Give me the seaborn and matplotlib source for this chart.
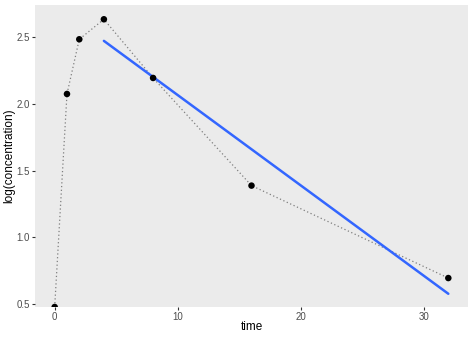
import matplotlib
matplotlib.use("Agg")
import matplotlib.pyplot as plt
import seaborn as sns
import pandas as pd
import numpy as np

time = [0, 1, 2, 4, 8, 16, 32]
log_conc = [0.478, 2.075, 2.485, 2.635, 2.195, 1.388, 0.695]
x_ticks = [0, 10, 20, 30]
y_ticks = [0.5, 1.0, 1.5, 2.0, 2.5]
y_tick_labels = ["0.5", "1.0", "1.5", "2.0", "2.5"]

df = pd.DataFrame({"time": time, "log_conc": log_conc})
fit_df = df[df["time"] >= 4]

sns.set_theme(style="white")
plt.rcParams['font.family'] = ['Liberation Sans', 'DejaVu Sans']

fig = plt.figure(figsize=(4.74, 3.38), dpi=100)
ax = fig.add_axes([35/474, 1 - 307/338, (468-35)/474, (307-5)/338])
ax.set_facecolor("#EBEBEB")

sns.lineplot(data=df, x="time", y="log_conc", ax=ax, color="#7F7F7F",
             linestyle=(0, (1, 2)), linewidth=0.9, zorder=2)
sns.scatterplot(data=df, x="time", y="log_conc", ax=ax, color="black",
                s=22, edgecolor="none", zorder=4, clip_on=True)
sns.regplot(data=fit_df, x="time", y="log_conc", ax=ax, ci=None, scatter=False,
            truncate=True, line_kws={"color": "#3366FF", "linewidth": 1.8, "zorder": 3})

ax.set_xlim(-1.6, 33.6)
ax.set_ylim(0.478, 2.742)
ax.set_xticks(x_ticks)
ax.set_xticklabels([str(t) for t in x_ticks])
ax.set_yticks(y_ticks)
ax.set_yticklabels(y_tick_labels)
for s in ax.spines.values():
    s.set_visible(False)
ax.tick_params(axis="both", which="both", length=2, width=0.8, color="#333333",
               labelcolor="#4D4D4D", labelsize=7, pad=1.5, bottom=True, left=True)
ax.set_xlabel("time", fontsize=8.5, color="black")
ax.set_ylabel("log(concentration)", fontsize=8.5, color="black")
ax.xaxis.set_label_coords(0.5, -(327 - 307) / 302, transform=ax.transAxes)
ax.xaxis.label.set_va("center")
ax.yaxis.set_label_coords(-(35 - 9) / 433, 0.5, transform=ax.transAxes)
ax.yaxis.label.set_va("center")
ax.grid(False)

fig.savefig("out.png", dpi=100)
